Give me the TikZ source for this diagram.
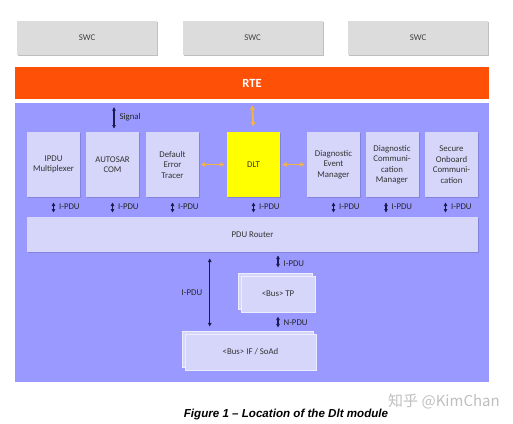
\documentclass[tikz,border=0pt]{standalone}
\usepackage{fontspec}
\setmainfont{Carlito}
\newfontfamily\captionfont{Liberation Sans}
\newfontfamily\cjkfont{Noto Sans CJK SC}
\usepackage{tikz}
\usetikzlibrary{arrows.meta, positioning, calc, shadows}
\definecolor{bswblue}{HTML}{9999FF}
\definecolor{modfill}{HTML}{D6D6FA}
\definecolor{rteorange}{HTML}{FF5008}
\definecolor{swcgray}{HTML}{DCDCDC}
\definecolor{dltyellow}{HTML}{FFFF00}
\definecolor{linkorange}{HTML}{F5B342}
\definecolor{pdunavy}{HTML}{1A1A50}

\tikzset{
  smalltext/.style={font=\fontsize{8.8}{10.5}\selectfont},
  swcbox/.style={smalltext, fill=swcgray, text=black!75, minimum width=140pt, minimum height=34pt,
    drop shadow={shadow xshift=1.2pt, shadow yshift=-1.4pt, fill=black!50, opacity=.5}},
  module/.style={smalltext, fill=modfill, text=black!80, align=center, inner sep=1pt,
    minimum width=53pt, minimum height=65pt,
    drop shadow={shadow xshift=1pt, shadow yshift=-1pt, fill=bswblue!60!black, opacity=.35}},
  stackbox/.style={smalltext, fill=modfill, draw=white!55!modfill, line width=.5pt, text=black!80,
    copy shadow={shadow xshift=-3pt, shadow yshift=3pt, fill=modfill, draw=white!55!modfill}},
  pdulink/.style={draw=pdunavy, line width=1.2pt, {Latex[length=3.8pt,width=4pt]}-{Latex[length=3.8pt,width=4pt]}},
  dltlink/.style={draw=linkorange, line width=1.8pt, {Latex[length=4.5pt,width=5.5pt]}-{Latex[length=4.5pt,width=5.5pt]}},
  linklabel/.style={smalltext, text=black!85, inner sep=1pt}
}

\begin{document}
\begin{tikzpicture}[x=1pt, y=-1pt]
  \useasboundingbox (0,0) rectangle (513,423);
  \fill[white] (0,0) rectangle (513,423);

  % application layer
  \node[swcbox] (swc1) at (87,38)    {SWC};
  \node[swcbox] (swc2) at (252.5,38) {SWC};
  \node[swcbox] (swc3) at (418,38)   {SWC};

  \node[fill=rteorange, text=white, minimum width=474pt, minimum height=32pt,
        font=\bfseries\fontsize{12.5}{14}\selectfont] (rte) at (252,83) {RTE};

  % basic software
  \node[fill=bswblue, minimum width=474pt, minimum height=279pt, inner sep=0pt] (bsw) at (252,242.5) {};

  \node[module] (ipdu)  at (53.5,164.5)  {IPDU\\Multiplexer};
  \node[module] (com)   at (112.5,164.5) {AUTOSAR\\COM};
  \node[module] (det)   at (172.5,164.5) {Default\\Error\\Tracer};
  \node[module, fill=dltyellow] (dlt) at (253.5,164.5) {DLT};
  \node[module] (dem)   at (333.5,164.5) {Diagnostic\\Event\\Manager};
  \node[module] (dcm)   at (392,164.5)   {Diagnostic\\Communi-\\cation\\Manager};
  \node[module] (secoc) at (451.5,164.5) {Secure\\Onboard\\Communi-\\cation};

  \node[module, minimum width=451pt, minimum height=35pt] (router) at (252.5,234.5) {PDU Router};

  \node[stackbox, minimum width=74pt, minimum height=36pt] (tp) at (278,294) {<Bus> TP};
  \node[stackbox, minimum width=131pt, minimum height=36pt] (busif) at (250.5,352) {<Bus> IF / SoAd};

  % links
  \coordinate (signal) at ([xshift=1.5pt]com.north);
  \draw[pdulink, shorten <=3pt, shorten >=4pt] (signal) -- (signal |- bsw.north)
    node[midway, right=4pt, linklabel] {Signal};

  \draw[dltlink, shorten <=5pt, shorten >=6pt] (dlt.north) -- (rte.south);
  \draw[dltlink, shorten <=1.5pt, shorten >=2pt] (det.east) -- (dlt.west);
  \draw[dltlink, shorten <=2pt, shorten >=2pt] (dlt.east) -- (dem.west);

  \foreach \m/\dx in {ipdu/0, com/0, det/0, dlt/0, dem/0, dcm/-6, secoc/-6}{
    \coordinate (\m pdu) at ([xshift=\dx pt]\m.south);
    \draw[pdulink, shorten <=5pt, shorten >=4pt] (\m pdu) -- (\m pdu |- router.north)
      node[midway, right=4pt, linklabel] {I-PDU};
  }

  \coordinate (direct) at ([xshift=25pt]busif.north west);
  \draw[pdulink, shorten <=7pt, shorten >=6pt] (direct) -- (direct |- router.south)
    node[midway, left=6pt, linklabel] {I-PDU};
  \draw[pdulink, shorten <=3pt, shorten >=8pt] (tp.north |- router.south) -- (tp.north)
    node[midway, right=4pt, linklabel] {I-PDU};
  \draw[pdulink, shorten <=4pt, shorten >=6pt] (tp.south) -- (tp.south |- busif.north)
    node[midway, right=4pt, linklabel] {N-PDU};

  % caption and watermark
  \node[font=\captionfont\bfseries\itshape\fontsize{11.6}{13}\selectfont] (caption) at (286,414)
    {Figure 1 – Location of the Dlt module};
  \node[font=\cjkfont\fontsize{15}{16}\selectfont, text=black!25] (mark) at (444,401) {知乎 @KimChan};
\end{tikzpicture}
\end{document}
